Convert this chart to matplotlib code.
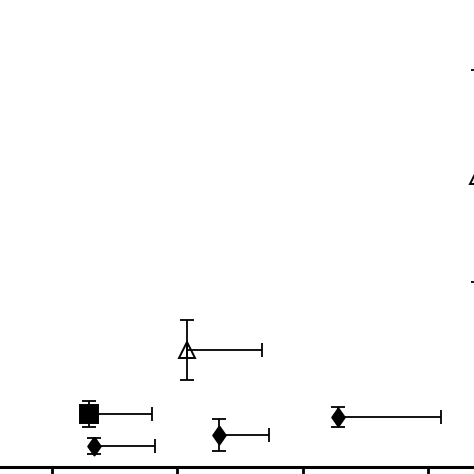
import matplotlib
matplotlib.use("Agg")
import matplotlib.pyplot as plt

# Group positions (x), values (y), vertical error and one-sided horizontal error
x_vals = [1.295, 1.333, 2.330, 3.280, 2.075, 4.40]
y_vals = [0.53, 0.213, 0.32, 0.50, 1.17, 2.91]
y_err = [0.13, 0.078, 0.16, 0.097, 0.30, 1.06]
x_err = [0.503, 0.487, 0.401, 0.824, 0.599, 0.60]
kinds = ["square", "diamond", "diamond", "diamond", "triangle", "triangle"]
filled = [True, True, True, True, False, False]

x_ticks = [1, 2, 3, 4]

# squat diamond, a bit wider than matplotlib's 'd'
diamond = [(0, 1), (0.7, 0), (0, -1), (-0.7, 0), (0, 1)]
marker_map = {"square": ("s", 13), "diamond": (diamond, 13), "triangle": ("^", 12)}

fig = plt.figure(figsize=(4.74, 4.74), dpi=100)
ax = fig.add_axes([0.0, 7 / 474, 1.0, 1 - 7 / 474])

for x, y, ye, xe, k, f in zip(x_vals, y_vals, y_err, x_err, kinds, filled):
    m, ms = marker_map[k]
    ax.errorbar(
        x, y, yerr=ye, xerr=[[0], [xe]],
        fmt="none", ecolor="black", elinewidth=1.3, capsize=5, capthick=1.3,
        clip_on=False,
    )
    ax.plot(x, y, marker=m, ms=ms, linestyle="none",
            mfc="black" if f else "none", mec="black", mew=1.4, clip_on=False)

ax.set_xlim(0.585, 4.368)
ax.set_ylim(0, 4.67)
ax.set_xticks(x_ticks)
ax.set_xticklabels([])
ax.set_yticks([])
for side in ["left", "right", "top"]:
    ax.spines[side].set_visible(False)
ax.spines["bottom"].set_linewidth(2.2)
ax.tick_params(axis="x", direction="out", length=8, width=2)

fig.savefig("out.png", dpi=100)
